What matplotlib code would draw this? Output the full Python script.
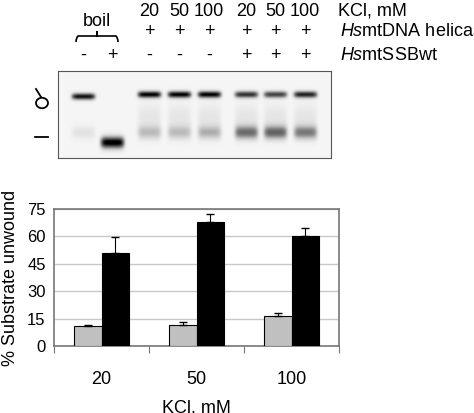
import numpy as np
import matplotlib.pyplot as plt
from matplotlib.patches import Circle, PathPatch
from matplotlib.path import Path

kcl = ['20', '50', '100']
helicase_only = [11, 11.5, 16.5]
helicase_only_err = [0.5, 1.5, 1.5]
with_ssb = [51, 68, 60]
with_ssb_err = [8.5, 4, 4.5]

# gel lanes: kcl label, helicase, ssb, upper band, lower band
lane_kcl = ['', '', '20', '50', '100', '20', '50', '100']
lane_hel = ['', '', '+', '+', '+', '+', '+', '+']
lane_ssb = ['-', '+', '-', '-', '-', '+', '+', '+']
upper_band = [0.85, 0.0, 0.9, 0.9, 0.9, 0.75, 0.7, 0.8]
lower_band = [0.12, 0.95, 0.28, 0.28, 0.32, 0.55, 0.58, 0.5]

W, H = 474, 413
plt.rcParams['font.family'] = ['Liberation Sans', 'DejaVu Sans']
plt.rcParams['mathtext.fontset'] = 'custom'
plt.rcParams['mathtext.it'] = 'Liberation Sans:italic'
plt.rcParams['mathtext.rm'] = 'Liberation Sans'
fig = plt.figure(figsize=(W / 100, H / 100), dpi=100)

# ---- gel ----
gx0, gy0, gw, gh = 58, 71, 273, 87
gel = fig.add_axes([gx0 / W, 1 - (gy0 + gh) / H, gw / W, gh / H])
centers = [25, 54, 91, 121, 151, 188, 217, 247]
xx, yy = np.meshgrid(np.arange(gw), np.arange(gh))
img = np.full((gh, gw), 0.08)
for i, c in enumerate(centers):
    xprof = np.exp(-((xx - c) / 12.0) ** 6)
    uy = 25 if i == 0 else 23
    img += upper_band[i] * xprof * np.exp(-((yy - uy) / 3.5) ** 2)
    ly = 71 if i == 1 else 61
    wide = 6.0 if i == 1 else 7.0
    img += lower_band[i] * xprof * np.exp(-((yy - ly) / wide) ** 2)
    if i >= 2:
        img += 0.1 * xprof * np.exp(-((yy - 45) / 14.0) ** 2)
gel.imshow(np.clip(img, 0, 1), cmap='Greys', vmin=0, vmax=1,
           extent=(0, gw, gh, 0), aspect='auto', interpolation='bilinear')
for s in gel.spines.values():
    s.set_color('#555555')
gel.set_xticks([])
gel.set_yticks([])


def ftxt(x, y, s, size=13, **kw):
    fig.text(x / W, 1 - y / H, s, fontsize=size, va='center', **kw)


for i, c in enumerate(centers):
    x = gx0 + c
    if lane_kcl[i]:
        ftxt(x, 11, lane_kcl[i], ha='center')
    if lane_hel[i]:
        ftxt(x, 32, lane_hel[i], ha='center')
    ftxt(x, 55, lane_ssb[i], ha='center')
ftxt(338, 11, 'KCl, mM', ha='left')
ftxt(340, 32, r'$\it{Hs}$mtDNA helicase', ha='left')
ftxt(340, 55, r'$\it{Hs}$mtSSBwt', ha='left')
ftxt(97, 21, 'boil', ha='center')

# curly brace under "boil" (pixel coords -> figure coords)
bx = [76, 76, 78, 97, 97, 97, 116, 118, 118]
by = [42, 38, 36, 36, 31, 36, 36, 38, 42]
verts = [(px / W, 1 - py / H) for px, py in zip(bx, by)]
codes = [Path.MOVETO, Path.CURVE3, Path.CURVE3, Path.LINETO, Path.LINETO,
         Path.LINETO, Path.LINETO, Path.CURVE3, Path.CURVE3]
fig.add_artist(PathPatch(Path(verts, codes), fill=False, lw=1.2,
                         transform=fig.transFigure))

# substrate / product symbols
fig.add_artist(Circle((42 / W, 1 - 103 / H), 6 / W, transform=fig.transFigure,
                      fill=False, lw=1.3, color='black'))
fig.add_artist(plt.Line2D([36 / W, 41 / W], [1 - 89 / H, 1 - 97 / H], lw=1.3, color='black'))
fig.add_artist(plt.Line2D([35 / W, 48 / W], [1 - 137 / H, 1 - 137 / H], lw=1.3, color='black'))

# ---- bar chart ----
ax = fig.add_axes([54 / W, 1 - 346 / H, 285 / W, 137 / H])
x = np.arange(len(kcl))
bw = 0.29
ax.bar(x - bw / 2, helicase_only, bw, color='#c0c0c0', edgecolor='black', lw=0.8, zorder=3)
ax.bar(x + bw / 2, with_ssb, bw, color='black', edgecolor='black', lw=0.8, zorder=3)
ax.errorbar(x - bw / 2, helicase_only, yerr=[np.zeros(3), helicase_only_err],
            fmt='none', ecolor='black', capsize=3, lw=0.8, zorder=4)
ax.errorbar(x + bw / 2, with_ssb, yerr=[np.zeros(3), with_ssb_err],
            fmt='none', ecolor='black', capsize=3, lw=0.8, zorder=4)
ax.set_xlim(-0.5, 2.5)
ax.set_ylim(0, 75)
ax.set_yticks([0, 15, 30, 45, 60, 75])
ax.yaxis.grid(True, color='#c8c8c8', lw=1)
ax.set_axisbelow(True)
ax.set_xticks([-0.5, 0.5, 1.5, 2.5])
ax.set_xticklabels([])
ax.set_xticks(x, minor=True)
ax.set_xticklabels(kcl, minor=True, fontsize=13)
ax.tick_params(axis='x', which='major', direction='out', length=5, color='#777777')
ax.tick_params(axis='x', which='minor', length=0, pad=18)
ax.tick_params(axis='y', length=0, labelsize=12, pad=6)
for s in ax.spines.values():
    s.set_color('#777777')
    s.set_linewidth(1.2)
ax.set_ylabel('% Substrate unwound', fontsize=13, labelpad=6)
ax.set_xlabel('KCl, mM', fontsize=13, labelpad=8)

fig.savefig('out.png', dpi=100)
